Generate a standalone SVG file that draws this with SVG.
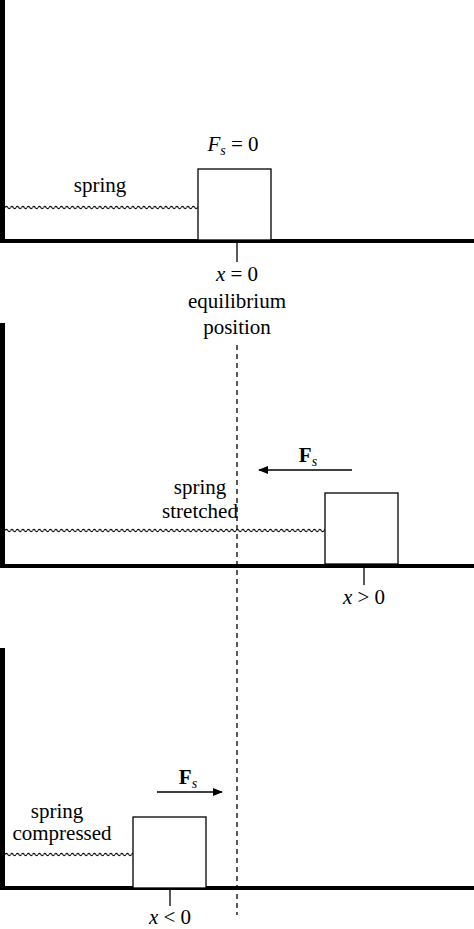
<svg xmlns="http://www.w3.org/2000/svg" width="474" height="929" viewBox="0 0 474 929">
<defs>
<style>
.t{font-family:"Liberation Serif","Times New Roman",serif;font-size:21px;fill:#000;text-anchor:middle}
.i{font-style:italic}
.b{font-weight:bold}
.w{fill:#000}
.blk{fill:#fff;stroke:#000;stroke-width:1.3}
.ln{stroke:#000;stroke-width:1.3;fill:none}
</style>
<marker id="ah" markerWidth="10" markerHeight="8" refX="9" refY="4" orient="auto" markerUnits="userSpaceOnUse"><path d="M0,0L10,4L0,8Z" fill="#000"/></marker>
<pattern id="wv1" width="5.5" height="5" patternUnits="userSpaceOnUse" x="5" y="205"><path d="M0,2.5Q1.4,0.3 2.75,2.5T5.5,2.5" fill="none" stroke="#000" stroke-width="1.1"/></pattern>
<pattern id="wv2" width="5.5" height="5" patternUnits="userSpaceOnUse" x="5" y="528"><path d="M0,2.5Q1.4,0.3 2.75,2.5T5.5,2.5" fill="none" stroke="#000" stroke-width="1.1"/></pattern>
<pattern id="wv3" width="5.5" height="5" patternUnits="userSpaceOnUse" x="5" y="852"><path d="M0,2.5Q1.4,0.3 2.75,2.5T5.5,2.5" fill="none" stroke="#000" stroke-width="1.1"/></pattern>
</defs>
<g id="panel1">
<rect class="w" x="0" y="0" width="5" height="243"/>
<rect class="w" x="0" y="239" width="474" height="4"/>
<rect x="5" y="205" width="193" height="5" fill="url(#wv1)"/>
<rect class="blk" x="198" y="169" width="73" height="71"/>
<text class="t" x="100" y="192">spring</text>
<text class="t" x="233" y="151"><tspan class="i">F</tspan><tspan class="i" font-size="14" dy="4">s</tspan><tspan dy="-4"> = 0</tspan></text>
<line class="ln" x1="237" y1="243" x2="237" y2="262"/>
<text class="t" x="237" y="281"><tspan class="i">x</tspan> = 0</text>
<text class="t" x="237" y="308">equilibrium</text>
<text class="t" x="237" y="334">position</text>
</g>
<g id="panel2">
<rect class="w" x="0" y="323" width="5" height="245"/>
<rect class="w" x="0" y="564" width="474" height="4"/>
<rect x="5" y="528" width="320" height="5" fill="url(#wv2)"/>
<rect class="blk" x="325" y="493" width="73" height="71"/>
<text class="t" x="200" y="494">spring</text>
<text class="t" x="200" y="518">stretched</text>
<text class="t" x="308" y="462"><tspan class="b">F</tspan><tspan class="i" font-size="14" dy="4">s</tspan></text>
<line class="ln" x1="352" y1="470" x2="259" y2="470" marker-end="url(#ah)"/>
<line class="ln" x1="364" y1="568" x2="364" y2="585"/>
<text class="t" x="364" y="604"><tspan class="i">x</tspan> &gt; 0</text>
</g>
<g id="panel3">
<rect class="w" x="0" y="648" width="5" height="242"/>
<rect class="w" x="0" y="886" width="474" height="4"/>
<rect x="5" y="852" width="128" height="5" fill="url(#wv3)"/>
<rect class="blk" x="133" y="817" width="73" height="71"/>
<text class="t" x="57" y="818">spring</text>
<text class="t" x="62" y="840">compressed</text>
<text class="t" x="188" y="784"><tspan class="b">F</tspan><tspan class="i" font-size="14" dy="4">s</tspan></text>
<line class="ln" x1="157" y1="792" x2="222" y2="792" marker-end="url(#ah)"/>
<line class="ln" x1="170" y1="890" x2="170" y2="906"/>
<text class="t" x="170" y="924"><tspan class="i">x</tspan> &lt; 0</text>
</g>
<g id="connectors">
<line x1="237" y1="345" x2="237" y2="915" stroke="#000" stroke-width="1.3" stroke-dasharray="5,4"/>
</g>
</svg>
